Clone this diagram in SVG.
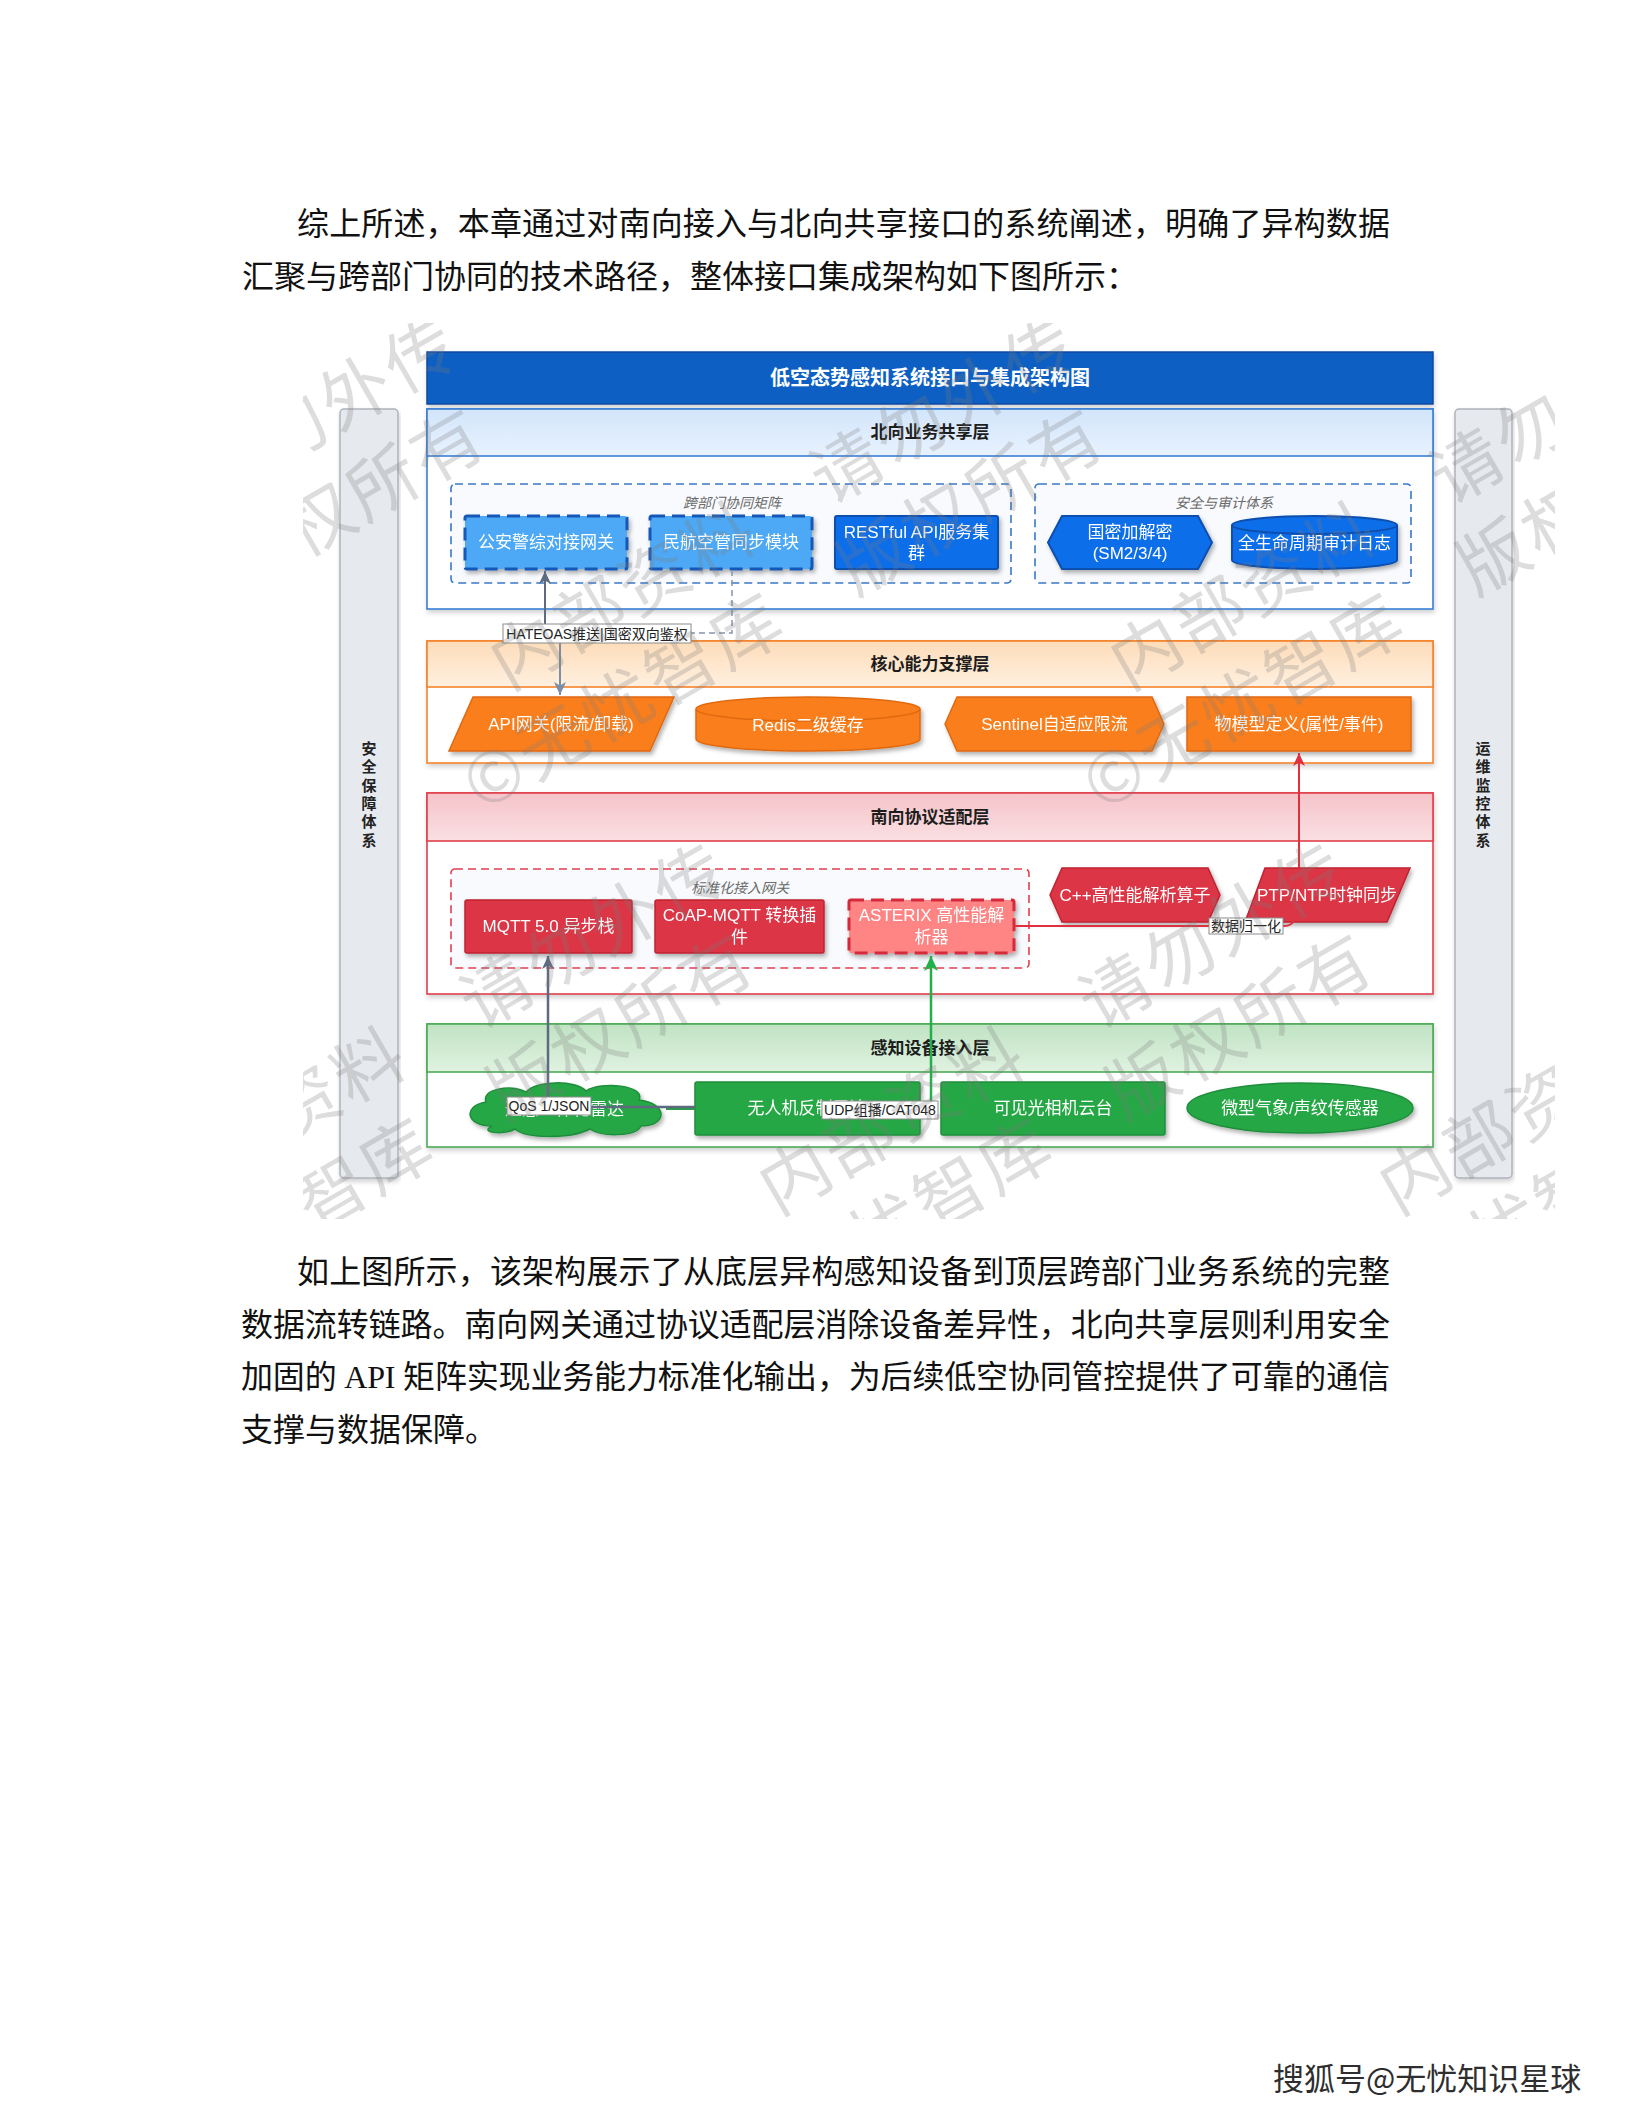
<svg xmlns="http://www.w3.org/2000/svg" width="1632" height="2112" viewBox="0 0 1632 2112">
<defs>
<style>
.para{font-family:"Liberation Serif","Noto Sans CJK SC",serif;font-size:32px;fill:#111}
.nt{font-family:"Liberation Sans","Noto Sans CJK SC",sans-serif;font-size:17px;fill:#fff;text-anchor:middle;dominant-baseline:central}
.ht{font-family:"Liberation Sans","Noto Sans CJK SC",sans-serif;font-size:17px;font-weight:bold;fill:#1d1d1d;text-anchor:middle;dominant-baseline:central}
.gl{font-family:"Liberation Sans","Noto Sans CJK SC",sans-serif;font-size:14px;font-style:italic;fill:#6b6b6b;text-anchor:middle;dominant-baseline:central}
.el{font-family:"Liberation Sans","Noto Sans CJK SC",sans-serif;font-size:14px;fill:#222;text-anchor:middle;dominant-baseline:central}
.elbox{fill:#fff;stroke:#8c8c8c;stroke-width:1}
.side{fill:#e6e9ed;stroke:#aeb3ba;stroke-width:1.5}
.st{font-family:"Liberation Sans","Noto Sans CJK SC",sans-serif;font-size:15px;font-weight:bold;fill:#222;text-anchor:middle;dominant-baseline:central}
.blue{fill:#0d6eea;stroke:#0a4fae;stroke-width:2}
.lblue{fill:#4ea9f5;stroke:#1559b8;stroke-width:3;stroke-dasharray:13 7}
.orange{fill:#fa7f1a;stroke:#e06810;stroke-width:1.5}
.red{fill:#dc3545;stroke:#c02232;stroke-width:1.5}
.pink{fill:#ff8585;stroke:#d42a3a;stroke-width:3;stroke-dasharray:13 7}
.green{fill:#28a745;stroke:#1e8e3a;stroke-width:1.5}
.grp{fill:#f8fafd;stroke-width:1.6;stroke-dasharray:8 5}
.wm{font-family:"Noto Sans CJK SC",sans-serif;font-size:70px;letter-spacing:4px;fill:#7a7a7a;fill-opacity:0.26;dominant-baseline:central}
</style>
<filter id="sh" x="-10%" y="-20%" width="130%" height="160%">
<feDropShadow dx="2" dy="3" stdDeviation="2" flood-color="#000" flood-opacity="0.3"/>
</filter>
<filter id="shl" x="-5%" y="-5%" width="110%" height="115%">
<feDropShadow dx="1" dy="3" stdDeviation="2.5" flood-color="#000" flood-opacity="0.18"/>
</filter>
<linearGradient id="gBlue" x1="0" y1="0" x2="0" y2="1"><stop offset="0" stop-color="#d2e5fb"/><stop offset="1" stop-color="#e8f2fe"/></linearGradient>
<linearGradient id="gOrange" x1="0" y1="0" x2="0" y2="1"><stop offset="0" stop-color="#fddcb9"/><stop offset="1" stop-color="#fff0e0"/></linearGradient>
<linearGradient id="gRed" x1="0" y1="0" x2="0" y2="1"><stop offset="0" stop-color="#f5c4ca"/><stop offset="1" stop-color="#fadfe2"/></linearGradient>
<linearGradient id="gGreen" x1="0" y1="0" x2="0" y2="1"><stop offset="0" stop-color="#c0e3c3"/><stop offset="1" stop-color="#e0f2e1"/></linearGradient>
<marker id="aGray" markerUnits="userSpaceOnUse" markerWidth="14" markerHeight="12" refX="13" refY="6" orient="auto"><path d="M0,0 L13,6 L0,12 L3.5,6 Z" fill="#5d6a80"/></marker>
<marker id="aGray2" markerUnits="userSpaceOnUse" markerWidth="14" markerHeight="12" refX="13" refY="6" orient="auto"><path d="M0,0 L13,6 L0,12 L3.5,6 Z" fill="#7d8fa6"/></marker>
<marker id="aGreen" markerUnits="userSpaceOnUse" markerWidth="16" markerHeight="14" refX="15" refY="7" orient="auto"><path d="M0,0 L15,7 L0,14 L4,7 Z" fill="#22b04a"/></marker>
<marker id="aRed" markerUnits="userSpaceOnUse" markerWidth="14" markerHeight="12" refX="13" refY="6" orient="auto"><path d="M0,0 L13,6 L0,12 L3.5,6 Z" fill="#e0303f"/></marker>
<clipPath id="imgclip"><rect x="303" y="323" width="1252" height="896"/></clipPath>
</defs>
<rect x="0" y="0" width="1632" height="2112" fill="#fff"/>

<g id="text-top">
<text class="para" x="297" y="235" textLength="1093" lengthAdjust="spacing">综上所述，本章通过对南向接入与北向共享接口的系统阐述，明确了异构数据</text>
<text class="para" x="242" y="288">汇聚与跨部门协同的技术路径，整体接口集成架构如下图所示：</text>
</g>

<g id="side-left">
<rect class="side" x="340" y="409" width="58" height="769" rx="4" filter="url(#shl)"/>
<text class="st" x="369"><tspan x="369" y="748">安</tspan><tspan x="369" y="766.3">全</tspan><tspan x="369" y="784.6">保</tspan><tspan x="369" y="802.9">障</tspan><tspan x="369" y="821.2">体</tspan><tspan x="369" y="839.5">系</tspan></text>
</g>
<g id="side-right">
<rect class="side" x="1455" y="409" width="57" height="769" rx="4" filter="url(#shl)"/>
<text class="st" x="1483"><tspan x="1483" y="748">运</tspan><tspan x="1483" y="766.3">维</tspan><tspan x="1483" y="784.6">监</tspan><tspan x="1483" y="802.9">控</tspan><tspan x="1483" y="821.2">体</tspan><tspan x="1483" y="839.5">系</tspan></text>
</g>

<g id="title">
<rect x="427" y="352" width="1006" height="52" fill="#0e5ec3" stroke="#0a4a9e" stroke-width="1.5" filter="url(#shl)"/>
<text x="930" y="378" font-family="Liberation Sans,Noto Sans CJK SC,sans-serif" font-size="20" font-weight="bold" fill="#fff" text-anchor="middle" dominant-baseline="central">低空态势感知系统接口与集成架构图</text>
</g>

<g id="layer-north">
<rect x="427" y="409" width="1006" height="200" fill="#fff" stroke="#3a7fd5" stroke-width="1.6" filter="url(#shl)"/>
<rect x="427" y="409" width="1006" height="47" fill="url(#gBlue)" stroke="#3a7fd5" stroke-width="1.6"/>
<text class="ht" x="930" y="432.5">北向业务共享层</text>
</g>
<g id="layer-core">
<rect x="427" y="641" width="1006" height="122" fill="#fff" stroke="#f5832a" stroke-width="1.6" filter="url(#shl)"/>
<rect x="427" y="641" width="1006" height="46" fill="url(#gOrange)" stroke="#f5832a" stroke-width="1.6"/>
<text class="ht" x="930" y="664">核心能力支撑层</text>
</g>
<g id="layer-south">
<rect x="427" y="793" width="1006" height="201" fill="#fff" stroke="#e0404c" stroke-width="1.6" filter="url(#shl)"/>
<rect x="427" y="793" width="1006" height="48" fill="url(#gRed)" stroke="#e0404c" stroke-width="1.6"/>
<text class="ht" x="930" y="817">南向协议适配层</text>
</g>
<g id="layer-sense">
<rect x="427" y="1024" width="1006" height="123" fill="#fff" stroke="#4caa55" stroke-width="1.6" filter="url(#shl)"/>
<rect x="427" y="1024" width="1006" height="48" fill="url(#gGreen)" stroke="#4caa55" stroke-width="1.6"/>
<text class="ht" x="930" y="1048">感知设备接入层</text>
</g>

<g id="group-cross">
<rect class="grp" x="451" y="484" width="560" height="99" rx="4" stroke="#3a78c8"/>
<text class="gl" x="732" y="503">跨部门协同矩阵</text>
</g>
<g id="group-sec">
<rect class="grp" x="1035" y="484" width="376" height="99" rx="4" stroke="#3a78c8"/>
<text class="gl" x="1224" y="503">安全与审计体系</text>
</g>
<g id="group-gw">
<rect class="grp" x="451" y="869" width="578" height="99" rx="4" stroke="#e04050"/>
<text class="gl" x="740" y="888">标准化接入网关</text>
</g>

<g id="n-police" filter="url(#sh)"><rect class="lblue" x="465" y="516" width="162" height="53" rx="2"/><text class="nt" x="546" y="542.5">公安警综对接网关</text></g>
<g id="n-caac" filter="url(#sh)"><rect class="lblue" x="650" y="516" width="162" height="53" rx="2"/><text class="nt" x="731" y="542.5">民航空管同步模块</text></g>
<g id="n-rest" filter="url(#sh)"><rect class="blue" x="835" y="516" width="163" height="53" rx="2"/><text class="nt" x="916.5" y="532">RESTful API服务集</text><text class="nt" x="916.5" y="553">群</text></g>
<g id="n-sm" filter="url(#sh)"><polygon class="blue" points="1048,542.5 1062,516 1198,516 1212,542.5 1198,569 1062,569"/><text class="nt" x="1130" y="532">国密加解密</text><text class="nt" x="1130" y="553">(SM2/3/4)</text></g>
<g id="n-audit" filter="url(#sh)"><path class="blue" d="M1232 525 A82.5 9 0 0 1 1397 525 V560 A82.5 9 0 0 1 1232 560 Z"/><path d="M1232 525 A82.5 9 0 0 0 1397 525" fill="none" stroke="#0a4fae" stroke-width="2"/><text class="nt" x="1314.5" y="543">全生命周期审计日志</text></g>

<g id="n-apigw" filter="url(#sh)"><polygon class="orange" points="473,697 674,697 650,751 449,751"/><text class="nt" x="561" y="724">API网关(限流/卸载)</text></g>
<g id="n-redis" filter="url(#sh)"><path class="orange" d="M696 709 A112 12 0 0 1 920 709 V739 A112 12 0 0 1 696 739 Z"/><path d="M696 709 A112 12 0 0 0 920 709" fill="none" stroke="#e06810" stroke-width="1.5"/><text class="nt" x="808" y="725">Redis二级缓存</text></g>
<g id="n-sentinel" filter="url(#sh)"><polygon class="orange" points="945,724 957,697 1152,697 1164,724 1152,751 957,751"/><text class="nt" x="1054.5" y="724">Sentinel自适应限流</text></g>
<g id="n-model" filter="url(#sh)"><rect class="orange" x="1187" y="697" width="224" height="54"/><text class="nt" x="1299" y="724">物模型定义(属性/事件)</text></g>

<g id="n-mqtt" filter="url(#sh)"><rect class="red" x="465" y="900" width="167" height="53" rx="2"/><text class="nt" x="548.5" y="926.5">MQTT 5.0 异步栈</text></g>
<g id="n-coap" filter="url(#sh)"><rect class="red" x="655" y="900" width="169" height="53" rx="2"/><text class="nt" x="739.5" y="915">CoAP-MQTT 转换插</text><text class="nt" x="739.5" y="937">件</text></g>
<g id="n-asterix" filter="url(#sh)"><rect class="pink" x="849" y="900" width="165" height="53" rx="2"/><text class="nt" x="931.5" y="915">ASTERIX 高性能解</text><text class="nt" x="931.5" y="937">析器</text></g>
<g id="n-cpp" filter="url(#sh)"><polygon class="red" points="1050,895 1062,868 1208,868 1220,895 1208,922 1062,922"/><text class="nt" x="1135" y="895">C++高性能解析算子</text></g>
<g id="n-ptp" filter="url(#sh)"><polygon class="red" points="1265,868 1410,868 1387,922 1245,922"/><text class="nt" x="1327" y="895">PTP/NTP时钟同步</text></g>

<g id="n-radar5g" filter="url(#sh)"><path class="green" d="M492 1126 C466 1126 462 1106 486 1102 C481 1089 510 1084 526 1092 C537 1080 576 1080 586 1091 C601 1081 646 1085 639 1100 C668 1103 668 1126 641 1126 C636 1137 601 1137 590 1129 C571 1139 526 1139 515 1129 C504 1135 478 1133 492 1126 Z"/><text class="nt" x="564.5" y="1109">通感一体化雷达</text></g>
<g id="n-uav" filter="url(#sh)"><rect class="green" x="695" y="1082" width="225" height="53" rx="2"/><text class="nt" x="807" y="1108.5">无人机反制雷达</text></g>
<g id="n-cam" filter="url(#sh)"><rect class="green" x="941" y="1082" width="224" height="53" rx="2"/><text class="nt" x="1053" y="1108.5">可见光相机云台</text></g>
<g id="n-meteo" filter="url(#sh)"><ellipse class="green" cx="1300" cy="1108" rx="113" ry="25"/><text class="nt" x="1300" y="1108">微型气象/声纹传感器</text></g>

<g id="connectors" fill="none">
<path d="M545 633 V571" stroke="#5d6a80" stroke-width="2" marker-end="url(#aGray)"/>
<path d="M545 633 H560 V695" stroke="#7d8fa6" stroke-width="2" marker-end="url(#aGray2)"/>
<path d="M732 570 V633 H691" stroke="#8595aa" stroke-width="1.5" stroke-dasharray="6 4"/>
<rect class="elbox" x="503" y="624" width="188" height="19"/>
<text class="el" x="597" y="633.5">HATEOAS推送|国密双向鉴权</text>
<path d="M1299 868 V753" stroke="#e0303f" stroke-width="2" marker-end="url(#aRed)"/>
<path d="M1014 926 H1284 Q1292 926 1294 920" stroke="#e0303f" stroke-width="2"/>
<rect class="elbox" x="1209" y="918" width="74" height="16"/>
<text class="el" x="1246" y="926">数据归一化</text>
<path d="M666 1109 H695" stroke="#2a9d48" stroke-width="2"/>
<path d="M695 1107 H548 V956" stroke="#5d6a80" stroke-width="2.5" marker-end="url(#aGray)"/>
<path d="M920 1110 H931 V956" stroke="#22b04a" stroke-width="2.5" marker-end="url(#aGreen)"/>
<rect class="elbox" x="507" y="1097" width="84" height="18"/>
<text class="el" x="549" y="1106" font-size="15">QoS 1/JSON</text>
<rect class="elbox" x="822" y="1101" width="116" height="18"/>
<text class="el" x="880" y="1110">UDP组播/CAT048</text>
</g>

<g id="watermark" clip-path="url(#imgclip)">
<g transform="translate(-94,646) rotate(-30)"><text class="wm" x="-37" y="0">内部资料　请勿外传</text><text class="wm" x="-121" y="92">©无忧智库　版权所有</text></g>
<g transform="translate(525,646) rotate(-30)"><text class="wm" x="-37" y="0">内部资料　请勿外传</text><text class="wm" x="-121" y="92">©无忧智库　版权所有</text></g>
<g transform="translate(1145,646) rotate(-30)"><text class="wm" x="-37" y="0">内部资料　请勿外传</text><text class="wm" x="-121" y="92">©无忧智库　版权所有</text></g>
<g transform="translate(175,1171) rotate(-30)"><text class="wm" x="-37" y="0">内部资料　请勿外传</text><text class="wm" x="-121" y="92">©无忧智库　版权所有</text></g>
<g transform="translate(794,1171) rotate(-30)"><text class="wm" x="-37" y="0">内部资料　请勿外传</text><text class="wm" x="-121" y="92">©无忧智库　版权所有</text></g>
<g transform="translate(1414,1171) rotate(-30)"><text class="wm" x="-37" y="0">内部资料　请勿外传</text><text class="wm" x="-121" y="92">©无忧智库　版权所有</text></g>
</g>

<g id="text-bottom">
<text class="para" x="297" y="1283" textLength="1093" lengthAdjust="spacing">如上图所示，该架构展示了从底层异构感知设备到顶层跨部门业务系统的完整</text>
<text class="para" x="241" y="1336" textLength="1149" lengthAdjust="spacing">数据流转链路。南向网关通过协议适配层消除设备差异性，北向共享层则利用安全</text>
<text class="para" x="241" y="1388" textLength="1149" lengthAdjust="spacing">加固的 API 矩阵实现业务能力标准化输出，为后续低空协同管控提供了可靠的通信</text>
<text class="para" x="241" y="1441">支撑与数据保障。</text>
</g>

<text x="1273" y="2090" font-family="Noto Sans CJK SC,sans-serif" font-size="31" fill="#2e2e2e">搜狐号@无忧知识星球</text>
</svg>
